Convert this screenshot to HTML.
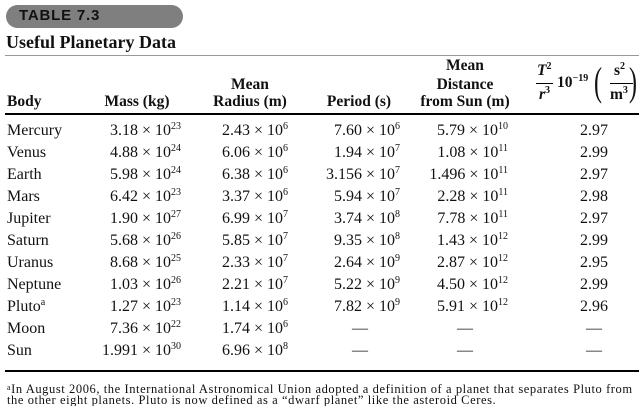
<!DOCTYPE html>
<html><head><meta charset="utf-8"><style>
body{margin:0;background:#fff;}
#c{position:relative;width:644px;height:406px;overflow:hidden;background:#fff;font-family:"Liberation Serif",serif;color:#111;}
.a{position:absolute;white-space:nowrap;line-height:20px;height:20px;}
.r{text-align:right;}
.m{text-align:center;}
.h{font-weight:bold;font-size:15.5px;}
.d{font-size:16px;}
sup{font-size:10px;vertical-align:6px;line-height:0;}
.hr{position:absolute;left:5px;width:634px;background:#000;}
.fn{position:absolute;left:7px;white-space:nowrap;font-size:12.5px;line-height:11px;height:11px;letter-spacing:0.58px;}
</style></head><body><div id="c">
<div style="position:absolute;left:6px;top:5px;width:177px;height:23px;border-radius:12px;background:#7f7f7f;"></div>
<div class="a" style="left:19px;top:6px;font-family:'Liberation Sans',sans-serif;font-size:15px;font-weight:bold;letter-spacing:0.8px;color:#111;">TABLE 7.3</div>
<div class="a" style="left:6px;top:32px;font-size:18px;font-weight:bold;">Useful Planetary Data</div>
<div class="hr" style="top:55px;height:1px;background:#999;"></div>
<div class="hr" style="top:113px;height:2px;"></div>
<div class="hr" style="top:370px;height:2px;"></div>

<div class="a h" style="left:7px;top:92px;">Body</div>
<div class="a h m" style="left:87px;width:100px;top:92px;">Mass (kg)</div>
<div class="a h m" style="left:200px;width:100px;top:75px;">Mean</div>
<div class="a h m" style="left:200px;width:100px;top:92px;">Radius (m)</div>
<div class="a h m" style="left:309px;width:100px;top:92px;">Period (s)</div>
<div class="a h m" style="left:405px;width:120px;top:56px;">Mean</div>
<div class="a h m" style="left:405px;width:120px;top:75px;">Distance</div>
<div class="a h m" style="left:405px;width:120px;top:92px;">from Sun (m)</div>
<div class="a h" style="left:537px;top:61px;font-style:italic;">T<sup style="font-style:normal">2</sup></div>
<div style="position:absolute;left:536px;top:83px;width:17px;height:1px;background:#000;"></div>
<div class="a h" style="left:539px;top:85px;font-style:italic;">r<sup style="font-style:normal">3</sup></div>
<div class="a h" style="left:557px;top:73px;">10<sup>−19</sup></div>
<div class="a" style="left:594px;top:60px;font-size:40px;line-height:44px;height:44px;transform:scaleX(0.6);transform-origin:left;">(</div>
<div class="a h" style="left:614px;top:61px;">s<sup>2</sup></div>
<div style="position:absolute;left:610px;top:83px;width:23px;height:1px;background:#000;"></div>
<div class="a h" style="left:610px;top:85px;">m<sup>3</sup></div>
<div class="a" style="left:629px;top:60px;font-size:40px;line-height:44px;height:44px;transform:scaleX(0.6);transform-origin:left;">)</div>

<div id="rows"></div>
<script>
var R=[["Mercury","3.18 × 10<sup>23</sup>","2.43 × 10<sup>6</sup>","7.60 × 10<sup>6</sup>","5.79 × 10<sup>10</sup>","2.97"],
["Venus","4.88 × 10<sup>24</sup>","6.06 × 10<sup>6</sup>","1.94 × 10<sup>7</sup>","1.08 × 10<sup>11</sup>","2.99"],
["Earth","5.98 × 10<sup>24</sup>","6.38 × 10<sup>6</sup>","3.156 × 10<sup>7</sup>","1.496 × 10<sup>11</sup>","2.97"],
["Mars","6.42 × 10<sup>23</sup>","3.37 × 10<sup>6</sup>","5.94 × 10<sup>7</sup>","2.28 × 10<sup>11</sup>","2.98"],
["Jupiter","1.90 × 10<sup>27</sup>","6.99 × 10<sup>7</sup>","3.74 × 10<sup>8</sup>","7.78 × 10<sup>11</sup>","2.97"],
["Saturn","5.68 × 10<sup>26</sup>","5.85 × 10<sup>7</sup>","9.35 × 10<sup>8</sup>","1.43 × 10<sup>12</sup>","2.99"],
["Uranus","8.68 × 10<sup>25</sup>","2.33 × 10<sup>7</sup>","2.64 × 10<sup>9</sup>","2.87 × 10<sup>12</sup>","2.95"],
["Neptune","1.03 × 10<sup>26</sup>","2.21 × 10<sup>7</sup>","5.22 × 10<sup>9</sup>","4.50 × 10<sup>12</sup>","2.99"],
["Pluto<sup>a</sup>","1.27 × 10<sup>23</sup>","1.14 × 10<sup>6</sup>","7.82 × 10<sup>9</sup>","5.91 × 10<sup>12</sup>","2.96"],
["Moon","7.36 × 10<sup>22</sup>","1.74 × 10<sup>6</sup>","—","—","—"],
["Sun","1.991 × 10<sup>30</sup>","6.96 × 10<sup>8</sup>","—","—","—"]];
var h="";
R.forEach(function(r,i){var t=121+i*22;
h+='<div class="a d" style="left:7px;top:'+t+'px">'+r[0]+'</div>';
h+='<div class="a d r" style="left:61px;width:120px;top:'+t+'px">'+r[1]+'</div>';
h+='<div class="a d r" style="left:168px;width:120px;top:'+t+'px">'+r[2]+'</div>';
if(r[3]=="—"){
h+='<div class="a d m" style="left:310px;width:100px;top:'+t+'px">—</div>';
h+='<div class="a d m" style="left:415px;width:100px;top:'+t+'px">—</div>';
}else{
h+='<div class="a d r" style="left:280px;width:120px;top:'+t+'px">'+r[3]+'</div>';
h+='<div class="a d r" style="left:388px;width:120px;top:'+t+'px">'+r[4]+'</div>';}
h+='<div class="a d m" style="left:554px;width:80px;top:'+t+'px">'+r[5]+'</div>';});
document.getElementById("rows").innerHTML=h;
</script>
<div class="fn" style="top:384px;"><sup style="font-size:8px;vertical-align:3px">a</sup>In August 2006, the International Astronomical Union adopted a definition of a planet that separates Pluto from</div>
<div class="fn" style="top:395px;">the other eight planets. Pluto is now defined as a “dwarf planet” like the asteroid Ceres.</div>
</div></body></html>
